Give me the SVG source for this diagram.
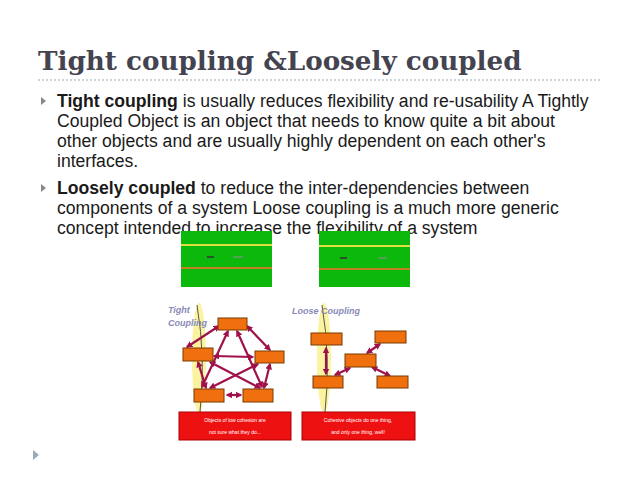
<svg xmlns="http://www.w3.org/2000/svg" width="638" height="479" viewBox="0 0 638 479">
<style>
.t{font-family:"Liberation Sans",Arial,sans-serif;font-size:17.6px;fill:#1a1a1a}
.b{font-weight:bold}
.ob{fill:#f07010;stroke:#7a3a00;stroke-width:1}
.ar{stroke:#a0104a;stroke-width:2.2;fill:none;marker-start:url(#h);marker-end:url(#h)}
.lb{font-family:"Liberation Sans",sans-serif;font-size:9px;font-style:italic;font-weight:bold;fill:#8a8ab8}
.rt{font-family:"Liberation Sans",sans-serif;font-size:5px;fill:#fff;text-anchor:middle}
</style>
<defs>
<marker id="h" viewBox="0 0 10 10" refX="8" refY="5" markerWidth="3" markerHeight="3" orient="auto-start-reverse"><path d="M0,0L10,5L0,10z" fill="#a0104a"/></marker>
</defs>
<rect width="638" height="479" fill="#fff"/>
<text x="38" y="70" font-family="'DejaVu Serif','Liberation Serif',serif" font-weight="bold" font-size="26.2" fill="#444450">Tight coupling &amp;Loosely coupled</text>
<line x1="38" y1="80" x2="602" y2="80" stroke="#9aaab8" stroke-dasharray="2,2"/>
<path d="M41,97l5,4l-5,4z M41,184l5,4l-5,4z" fill="#888"/>
<text class="t"><tspan x="57" y="107"><tspan class="b">Tight coupling</tspan> is usually reduces flexibility and re-usability A Tightly</tspan><tspan x="57" y="127">Coupled Object is an object that needs to know quite a bit about</tspan><tspan x="57" y="147">other objects and are usually highly dependent on each other's</tspan><tspan x="57" y="167">interfaces.</tspan><tspan x="57" y="194"><tspan class="b">Loosely coupled</tspan> to reduce the inter-dependencies between</tspan><tspan x="57" y="214">components of a system Loose coupling is a much more generic</tspan><tspan x="57" y="234">concept intended to increase the flexibility of a system</tspan></text>
<g id="green1"><rect x="181" y="231" width="91" height="56" fill="#0cb80c"/><line x1="181" y1="245" x2="272" y2="245" stroke="#e0e040" stroke-width="2"/><line x1="181" y1="268" x2="272" y2="268" stroke="#c08020" stroke-width="2"/><line x1="207" y1="257" x2="214" y2="257" stroke="#333" stroke-width="1.5"/><line x1="233" y1="257" x2="243" y2="257" stroke="#6a9a6a" stroke-width="1.5"/></g>
<g id="green2"><rect x="319" y="231" width="91" height="56" fill="#0cb80c"/><line x1="319" y1="246" x2="410" y2="246" stroke="#e0e040" stroke-width="2"/><line x1="319" y1="269" x2="410" y2="269" stroke="#c08020" stroke-width="2"/><line x1="340" y1="258" x2="347" y2="258" stroke="#333" stroke-width="1.5"/><line x1="378" y1="258" x2="387" y2="258" stroke="#6a9a6a" stroke-width="1.5"/></g>
<g id="tight">
<ellipse cx="199" cy="358" rx="7" ry="55" fill="#fbf3a0"/>
<path d="M197,305 Q206,358 200,412" stroke="#555" fill="none"/>
<text class="lb" x="168" y="313">Tight</text><text class="lb" x="168" y="326">Coupling</text>
<g>
<path class="ar" d="M219,326 L187,347"/><path class="ar" d="M247,326 L270,350"/>
<path class="ar" d="M198,362 L206,388"/><path class="ar" d="M270,364 L264,388"/>
<path class="ar" d="M227,395 L241,395"/>
<path class="ar" d="M228,331 L202,387"/><path class="ar" d="M237,331 L262,387"/>
<path class="ar" d="M214,356 L253,357"/><path class="ar" d="M210,362 L260,388"/><path class="ar" d="M258,364 L210,388"/>
</g>
<rect class="ob" x="218" y="318" width="29" height="12"/><rect class="ob" x="183" y="348" width="30" height="13"/><rect class="ob" x="255" y="351" width="29" height="12"/><rect class="ob" x="194" y="389" width="30" height="13"/><rect class="ob" x="243" y="389" width="30" height="13"/>
<rect x="179" y="412" width="112" height="28" fill="#ee1111" stroke="#a00"/><text class="rt" x="235" y="422">Objects of low cohesion are</text><text class="rt" x="235" y="434">not sure what they do...</text>
</g>
<g id="loose">
<ellipse cx="324" cy="358" rx="7" ry="55" fill="#fbf3a0"/>
<path d="M322,305 Q331,358 325,412" stroke="#555" fill="none"/>
<text class="lb" x="292" y="314">Loose Coupling</text>
<path class="ar" d="M326,348 L326,374"/><path class="ar" d="M335,375 L350,368"/><path class="ar" d="M367,353 L380,344"/><path class="ar" d="M372,367 L390,376"/>
<rect class="ob" x="311" y="333" width="31" height="12"/><rect class="ob" x="375" y="331" width="31" height="12"/><rect class="ob" x="345" y="354" width="31" height="13"/><rect class="ob" x="313" y="376" width="30" height="12"/><rect class="ob" x="377" y="376" width="31" height="12"/>
<rect x="302" y="412" width="113" height="28" fill="#ee1111" stroke="#a00"/><text class="rt" x="358" y="422">Cohesive objects do one thing,</text><text class="rt" x="358" y="434">and only one thing, well!</text>
</g>
<path d="M33,450l6,5l-6,5z" fill="#9aaab8"/>
</svg>
